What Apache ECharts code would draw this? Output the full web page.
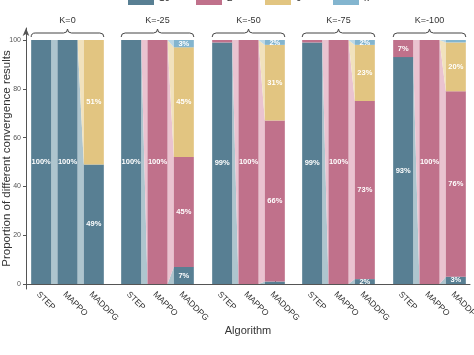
<!DOCTYPE html>
<html>
<head>
<meta charset="utf-8">
<script src="https://cdn.jsdelivr.net/npm/echarts@6/dist/echarts.min.js"></script>
<style>
html,body{margin:0;padding:0;background:#fff;}
#c{width:474px;height:355px;}
</style>
</head>
<body>
<div id="c"></div>
<script>
// ---------- data ----------
const groups = ['K=0', 'K=-25', 'K=-50', 'K=-75', 'K=-100'];
const algorithms = ['STEP', 'MAPPO', 'MADDPG'];
const outcomes = ['10', '2', '0', 'k'];
// share (%) of each outcome, per group, in algorithm order
const share10 = [[100, 100, 49], [100, 0, 7], [99, 0, 1], [99, 0, 2], [93, 0, 3]];
const share2  = [[0, 0, 0], [0, 100, 45], [1, 100, 66], [1, 100, 73], [7, 100, 76]];
const share0  = [[0, 0, 51], [0, 0, 45], [0, 0, 31], [0, 0, 23], [0, 0, 20]];
const shareK  = [[0, 0, 0], [0, 0, 3], [0, 0, 2], [0, 0, 2], [0, 0, 1]];
const yTicks = [0, 20, 40, 60, 80, 100];

// ---------- style ----------
const shares = [share10, share2, share0, shareK];
const colors = ['#587f93', '#c0718b', '#e2c581', '#83b5cf'];
const lightColors = ['#aec5ce', '#eac3d0', '#f1e2bd', '#bcd8e6'];
const FONT = 'Liberation Sans, Arial, sans-serif';
const BAR_W = 20;
const gridLefts = [28, 118, 209, 299, 390];
const legendLefts = [128, 196, 265, 333];
const GRID_W = 79;
const BAR_TOP = 40, BAR_H = 244;

const chart = echarts.init(document.getElementById('c'), null, {renderer: 'canvas'});

const grid = [{left: 26, right: 4, top: 28, height: 261, outerBoundsMode: 'none'}];
const xAxis = [{
  gridIndex: 0, type: 'value', min: 0, max: 1,
  axisLine: {show: true, lineStyle: {color: '#555', width: 1}},
  axisTick: {show: false}, axisLabel: {show: false}, splitLine: {show: false},
  name: 'Algorithm', nameLocation: 'middle', nameGap: 36,
  nameTextStyle: {fontSize: 11, color: '#333', fontFamily: FONT}
}];
const yAxis = [{
  gridIndex: 0, type: 'value', min: -2, max: 105,
  axisLine: {show: true, symbol: ['none', 'arrow'], symbolSize: [5, 8], lineStyle: {color: '#555', width: 1}},
  axisTick: {show: false}, axisLabel: {show: false}, splitLine: {show: false},
  name: 'Proportion of different convergence results', nameLocation: 'middle', nameGap: 13,
  nameMoveOverlap: false,
  nameTextStyle: {fontSize: 11.5, color: '#333', fontFamily: FONT}
}];
const series = [];

function cum(ci, gi, a) {
  let s = 0;
  for (let c = 0; c < ci; c++) s += shares[c][gi][a];
  return s;
}

groups.forEach((gName, gi) => {
  const idx = gi + 1;
  grid.push({left: gridLefts[gi], width: GRID_W, top: BAR_TOP, height: BAR_H, outerBoundsMode: 'none'});
  xAxis.push({
    gridIndex: idx, type: 'category', data: algorithms,
    offset: 5,
    axisLine: {show: false},
    axisTick: {show: true, alignWithLabel: true, inside: true, length: 4, lineStyle: {color: '#555'}},
    axisLabel: {rotate: -45, fontSize: 8.5, color: '#333', margin: 1, fontFamily: FONT, interval: 0,
      verticalAlign: 'top'},
    splitLine: {show: false}
  });
  yAxis.push({
    gridIndex: idx, type: 'value', min: 0, max: 100, interval: 20,
    show: gi === 0, offset: 2,
    axisLine: {show: false},
    axisTick: {show: true, length: 3, lineStyle: {color: '#555'}},
    axisLabel: {fontSize: 7, color: '#555', margin: 5, fontFamily: FONT,
      formatter: v => yTicks.includes(v) ? String(v) : ''},
    splitLine: {show: false}
  });

  outcomes.forEach((oName, ci) => {
    series.push({
      name: oName, type: 'bar', stack: 'g' + gi,
      xAxisIndex: idx, yAxisIndex: idx,
      barWidth: BAR_W,
      data: shares[ci][gi],
      itemStyle: {color: colors[ci]},
      label: {
        show: true, position: 'inside', color: '#fff', fontSize: 7.5, fontWeight: 'bold',
        fontFamily: FONT,
        formatter: p => (p.value >= 2 ? p.value + '%' : '')
      },
      z: 3
    });
    // connecting ribbons between adjacent bars
    series.push({
      name: 'flow-' + oName + '-' + gi, type: 'custom',
      xAxisIndex: idx, yAxisIndex: idx,
      data: [[0, 0], [1, 0]],
      encode: {x: 0, y: 1},
      z: 1, silent: true,
      renderItem: (params, api) => {
        const p = params.dataIndex;
        const loL = cum(ci, gi, p), hiL = loL + shares[ci][gi][p];
        const loR = cum(ci, gi, p + 1), hiR = loR + shares[ci][gi][p + 1];
        if (hiL - loL <= 0 && hiR - loR <= 0) return null;
        const x1 = api.coord([p, 0])[0] + BAR_W / 2;
        const x2 = api.coord([p + 1, 0])[0] - BAR_W / 2;
        return {
          type: 'polygon',
          shape: {points: [
            [x1, api.coord([p, loL])[1]], [x1, api.coord([p, hiL])[1]],
            [x2, api.coord([p + 1, hiR])[1]], [x2, api.coord([p + 1, loR])[1]]
          ]},
          style: {fill: lightColors[ci], stroke: null}
        };
      }
    });
  });

  // brace + group label
  series.push({
    name: 'brace-' + gi, type: 'custom',
    xAxisIndex: idx, yAxisIndex: idx,
    data: [[1, 100]], encode: {x: 0, y: 1},
    silent: true, z: 5,
    renderItem: (params, api) => {
      const t = api.coord([0, 100])[1];
      const x0 = api.coord([0, 100])[0] - BAR_W / 2;
      const x2 = api.coord([2, 100])[0] + BAR_W / 2;
      const xm = (x0 + x2) / 2;
      const d = `M${x0},${t - 3} Q${x0},${t - 7} ${x0 + 4},${t - 7} L${xm - 4},${t - 7} ` +
                `Q${xm},${t - 7} ${xm},${t - 11} Q${xm},${t - 7} ${xm + 4},${t - 7} ` +
                `L${x2 - 4},${t - 7} Q${x2},${t - 7} ${x2},${t - 3}`;
      return {
        type: 'group',
        children: [
          {type: 'path', shape: {pathData: d}, style: {fill: null, stroke: '#444', lineWidth: 1}},
          {type: 'text', style: {text: gName, x: xm, y: t - 19, align: 'center', verticalAlign: 'middle',
            fontSize: 9, fontFamily: FONT, fill: '#333'}}
        ]
      };
    }
  });
});

const legend = outcomes.map((o, i) => ({
  data: [o], top: -8, left: legendLefts[i], padding: 0,
  itemWidth: 26, itemHeight: 13, itemGap: 5,
  icon: 'rect',
  textStyle: {fontSize: 10, color: '#333', fontFamily: FONT, padding: [7, 0, 0, 0]}
}));

chart.setOption({
  animation: false,
  backgroundColor: '#fff',
  legend,
  grid, xAxis, yAxis, series
});
</script>
</body>
</html>
